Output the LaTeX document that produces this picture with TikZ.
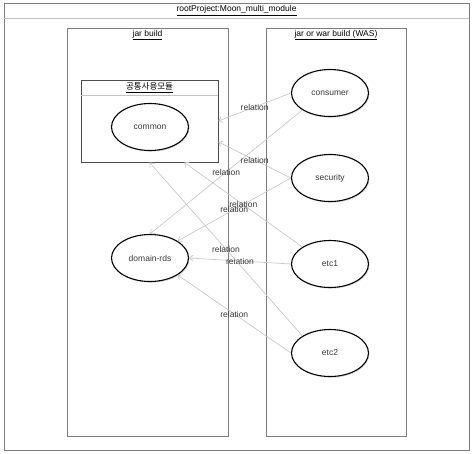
\documentclass[tikz,border=0pt]{standalone}
\usepackage{fontspec}
\setmainfont{Liberation Sans}
\newfontfamily\kofont{Noto Sans CJK KR}
\usepackage{tikz}
\usetikzlibrary{positioning,arrows.meta,shapes.geometric,shadows,calc}
\definecolor{framecolor}{RGB}{125,125,125}
\definecolor{sepcolor}{RGB}{195,195,195}
\definecolor{relcolor}{RGB}{200,200,200}
\definecolor{labelcolor}{RGB}{55,55,55}

\begin{document}
\begin{tikzpicture}[x=1pt, y=-1pt, >={Straight Barb[length=3.5pt,width=6pt]},
    frame/.style={draw=framecolor, line width=0.9pt, inner sep=0pt},
    module/.style={ellipse, draw, line width=1.1pt, fill=white, minimum width=77pt, minimum height=47pt, inner sep=0pt, text=labelcolor, font=\fontsize{8.5}{10}\selectfont, drop shadow={shadow xshift=1pt, shadow yshift=-1.2pt, opacity=0.25}},
    boxtitle/.style={font=\fontsize{8.5}{10}\selectfont, inner sep=0pt},
    relation/.style={->, draw=relcolor, line width=0.7pt},
    rellabel/.style={midway, text=labelcolor, font=\fontsize{8.5}{10}\selectfont, inner sep=0pt}]
    \useasboundingbox (0,0) rectangle (474,453);

    % Cadre du projet
    \node[frame, minimum width=465pt, minimum height=447pt] (rootframe) at (236.5,226.5) {};
    \node[boxtitle] (roottitle) at (236.5,10.5) {\underline{rootProject:Moon\_multi\_module}};
    \draw[sepcolor, line width=0.8pt] (rootframe.west |- 0,18) -- (rootframe.east |- 0,18);

    % Cadres jar / war
    \node[frame, minimum width=161pt, minimum height=408pt] (jarbox) at (147.5,232) {};
    \node[boxtitle] (jartitle) at (147.5,35) {\underline{jar build}};
    \node[frame, minimum width=140pt, minimum height=408pt] (wasbox) at (336,232) {};
    \node[boxtitle] (wastitle) at (336,35) {\underline{jar or war build (WAS)}};

    % Module commun
    \node[draw=black!70, line width=0.8pt, minimum width=137pt, minimum height=82pt, inner sep=0pt] (commonbox) at (149.5,121) {};
    \node[boxtitle] (commontitle) at (149.5,87.5) {\kofont\underline{공통사용모듈}};
    \draw[sepcolor, line width=0.8pt] (commonbox.west |- 0,95) -- (commonbox.east |- 0,95);

    % Modules
    \node[module] (common) at (150,127) {common};
    \node[module] (domainrds) at (150,258) {domain-rds};
    \node[module] (consumer) at (330,93) {consumer};
    \node[module] (security) at (330,178) {security};
    \node[module] (etcone) at (330,264) {etc1};
    \node[module] (etctwo) at (330,353) {etc2};

    % Relations
    \draw[relation] (consumer.west) -- (commonbox.east) node[rellabel] {relation};
    \draw[relation] (consumer.south west) -- (domainrds.north) node[rellabel] {relation};
    \draw[relation] (security.west) -- (commonbox.-17) node[rellabel] {relation};
    \draw[relation] (security.west) -- (domainrds.north east) node[rellabel] {relation};
    \draw[relation] (etcone.north west) -- (commonbox.-50) node[rellabel] {relation};
    \draw[relation] (etcone.west) -- (domainrds.east) node[rellabel] {relation};
    \draw[relation] (etctwo.north west) -- (commonbox.south) node[rellabel] {relation};
    \draw[relation] (etctwo.west) -- (domainrds.south east) node[rellabel] {relation};
\end{tikzpicture}
\end{document}
